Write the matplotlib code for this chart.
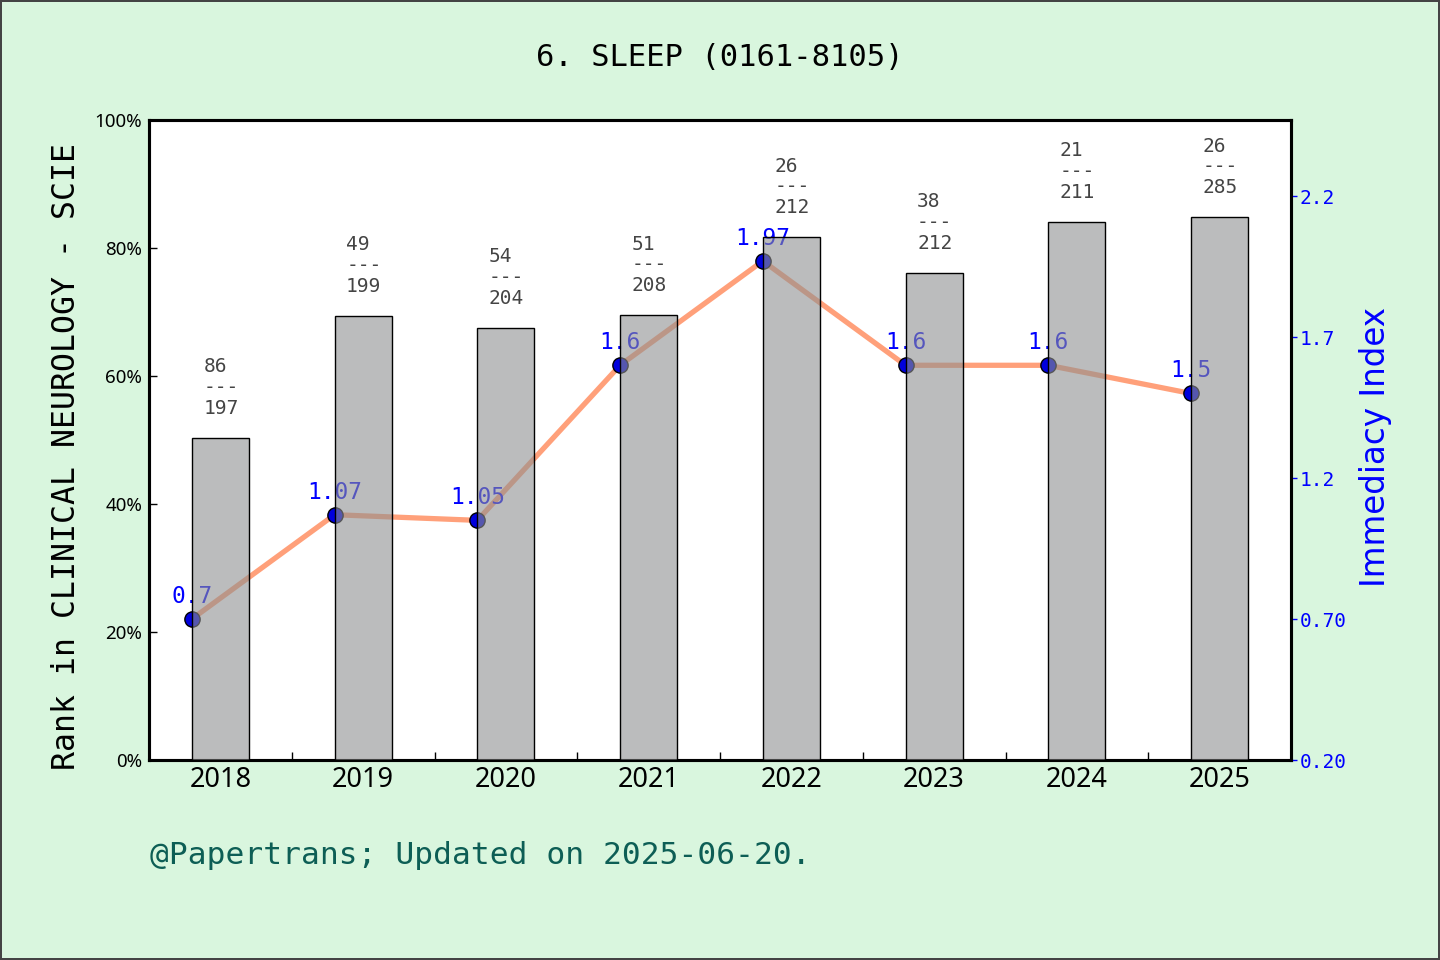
import matplotlib
matplotlib.use("Agg")
import matplotlib.pyplot as plt
import numpy as np

years = ["2018", "2019", "2020", "2021", "2022", "2023", "2024", "2025"]
rank_pct = [50.3, 69.4, 67.5, 69.5, 81.7, 76.1, 84.1, 84.8]
ranks = [86, 49, 54, 51, 26, 38, 21, 26]
totals = [197, 199, 204, 208, 212, 212, 211, 285]
imm_index = [0.7, 1.07, 1.05, 1.6, 1.97, 1.6, 1.6, 1.5]
imm_labels = ["0.7", "1.07", "1.05", "1.6", "1.97", "1.6", "1.6", "1.5"]
left_ticks = [0, 20, 40, 60, 80, 100]
left_ticklabels = ["0%", "20%", "40%", "60%", "80%", "100%"]
right_ticks = [0.2, 0.7, 1.2, 1.7, 2.2]
right_ticklabels = ["0.20", "0.70", "1.2", "1.7", "2.2"]

title = "6. SLEEP (0161-8105)"
ylabel_left = "Rank in CLINICAL NEUROLOGY - SCIE"
ylabel_right = "Immediacy Index"
footnote = "@Papertrans; Updated on 2025-06-20."

MONO = "DejaVu Sans Mono"
SANS = "Noto Sans"

fig = plt.figure(figsize=(14.4, 9.6), dpi=100, facecolor="#d9f6de",
                 edgecolor="#444444", linewidth=1.5)
ax = fig.add_axes([149/1440, 1 - 760/960, (1291-149)/1440, (760-120)/960])
ax.set_facecolor("white")
ax2 = ax.twinx()

x = np.arange(len(years))

# right axis: line first (below bars visually)
ax2.plot(x - 0.2, imm_index, color="#ffa07a", lw=3.8, zorder=1,
         marker="o", markersize=11, markerfacecolor="#0000dd",
         markeredgecolor="black", markeredgewidth=1.0)
for xi, v, lab in zip(x - 0.2, imm_index, imm_labels):
    ax2.annotate(lab, (xi, v), xytext=(0, 8), textcoords="offset points",
                 ha="center", va="bottom", color="blue", fontsize=16.5,
                 family=MONO, zorder=1)
ax2.set_ylim(0.2, 2.47)
ax2.set_yticks(right_ticks)
ax2.set_yticklabels(right_ticklabels, family=MONO, fontsize=14, color="blue")
ax2.tick_params(axis="y", direction="out", length=4, width=1, colors="blue",
                labelcolor="blue", pad=2)

# overlay axis for bars on top
ax3 = fig.add_axes(ax.get_position(), sharex=ax)
ax3.patch.set_visible(False)
ax3.bar(x, rank_pct, width=0.4, color=(0.56, 0.565, 0.57, 0.6),
        edgecolor="black", linewidth=1.0, zorder=2)
for xi, h, r, t in zip(x, rank_pct, ranks, totals):
    ax3.annotate(f"{r}\n---\n{t}", (xi, h), xytext=(-17, 20),
                 textcoords="offset pixels", ha="left", va="bottom",
                 multialignment="left", fontsize=14, family=MONO,
                 color="#444444", linespacing=1.12)
ax3.set_ylim(0, 100)
ax3.set_xlim(-0.5, len(years) - 0.5)
ax3.axis("off")

ax.set_xlim(-0.5, len(years) - 0.5)
ax.set_ylim(0, 100)
ax.set_yticks(left_ticks)
ax.set_yticklabels(left_ticklabels, family=SANS, fontsize=13.5)
ax.tick_params(axis="y", direction="in", length=6, width=1, pad=5)
ax.set_xticks(x)
ax.set_xticklabels(years, family=SANS, fontsize=19.5)
ax.tick_params(axis="x", which="major", length=0, pad=4)
ax.set_xticks(x[:-1] + 0.5, minor=True)
ax.tick_params(axis="x", which="minor", direction="in", length=6, width=1)

for a in (ax, ax2):
    for s in a.spines.values():
        s.set_linewidth(2.2)
        s.set_color("black")

fig.text(67/1440, 1 - 457/960, ylabel_left, rotation=90, ha="center",
         va="center", fontsize=22.7, family=MONO, color="black")
fig.text(1375/1440, 1 - 447/960, ylabel_right, rotation=90, ha="center",
         va="center", fontsize=23.5, family="DejaVu Sans", color="blue")
fig.text(720/1440, 1 - 57/960, title, ha="center", va="center",
         fontsize=22, family=MONO, color="black")
fig.text(150/1440, 1 - 855/960, footnote, ha="left", va="center",
         fontsize=22.5, family=MONO, color="#0d5e55")

fig.savefig("out.png", dpi=100, facecolor=fig.get_facecolor(),
            edgecolor=fig.get_edgecolor())
